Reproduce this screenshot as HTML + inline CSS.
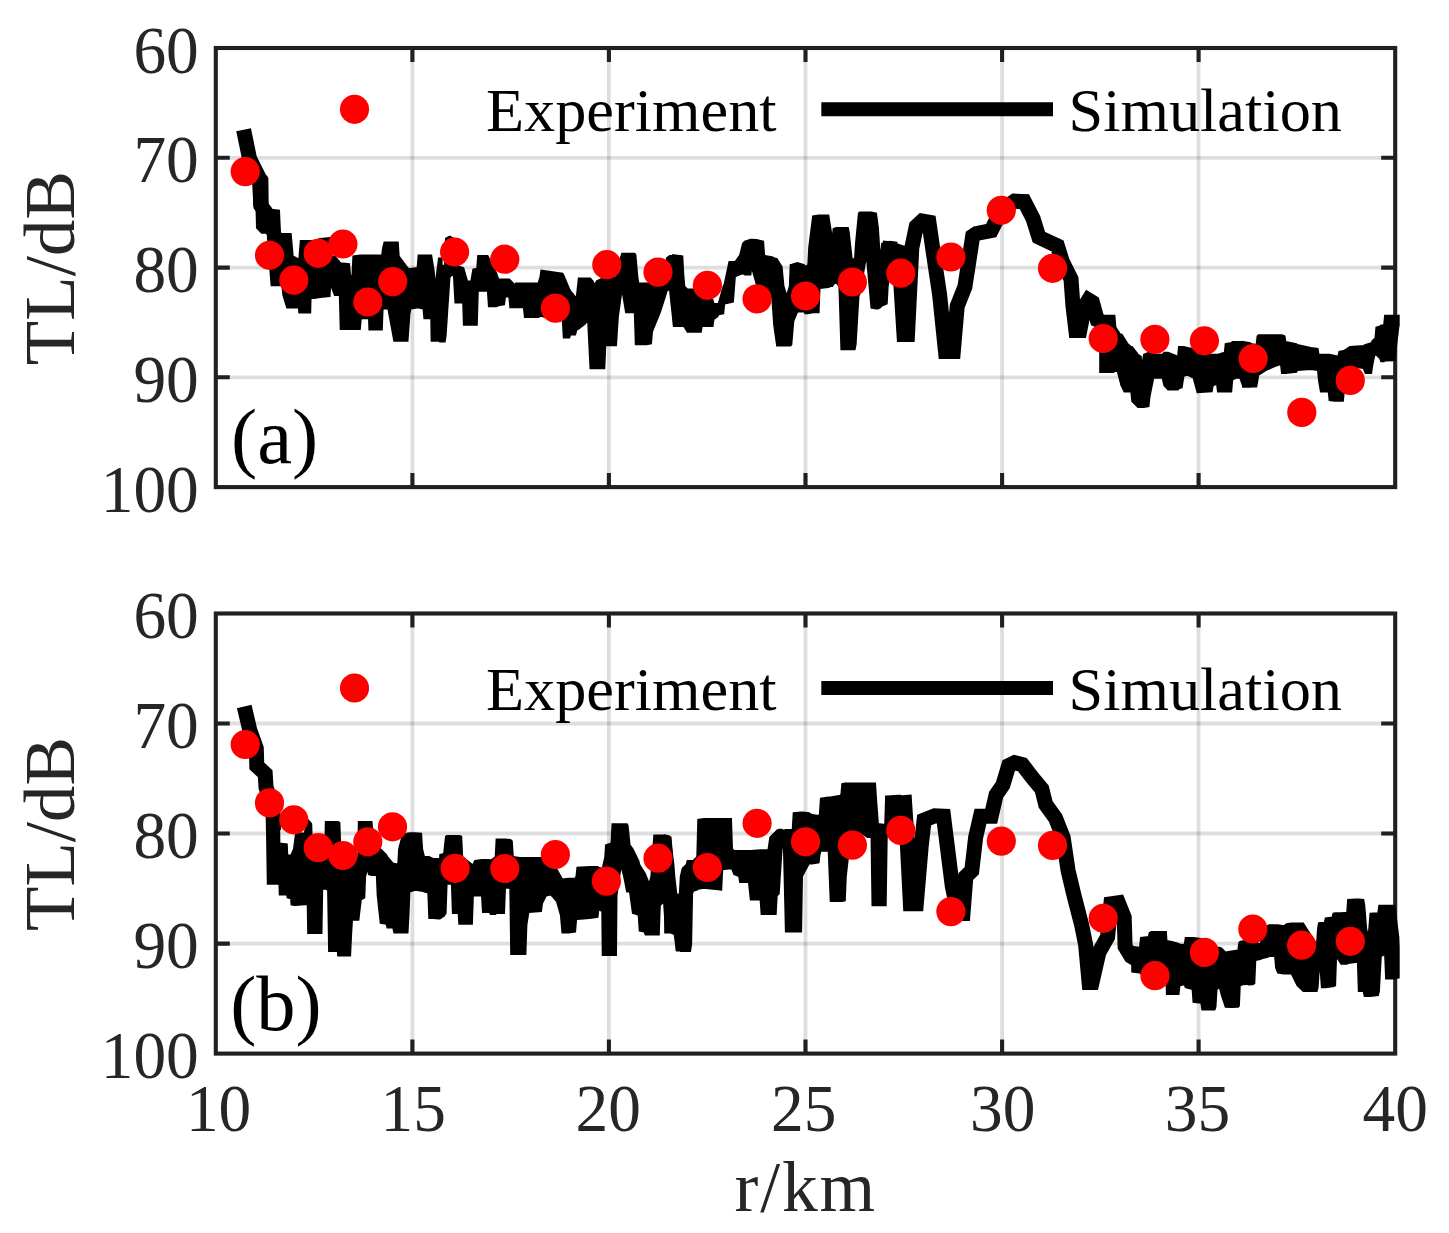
<!DOCTYPE html>
<html><head><meta charset="utf-8"><title>TL</title>
<style>
html,body{margin:0;padding:0;background:#fff;overflow:hidden}
svg{display:block}
text{font-family:"Liberation Serif",serif}
.tk{font-size:68.5px;fill:#262626}
.lb{font-size:72.8px;fill:#262626}
.lg{font-size:62.3px;fill:#000}
.tg{font-size:78.5px;fill:#000}
</style></head><body>
<svg width="1449" height="1233" viewBox="0 0 1449 1233">
<rect width="1449" height="1233" fill="#fff"/>

<g>
<line x1="412.4" y1="48.0" x2="412.4" y2="487.1" stroke="rgba(30,30,30,0.145)" stroke-width="3.8"/>
<line x1="608.9" y1="48.0" x2="608.9" y2="487.1" stroke="rgba(30,30,30,0.145)" stroke-width="3.8"/>
<line x1="805.5" y1="48.0" x2="805.5" y2="487.1" stroke="rgba(30,30,30,0.145)" stroke-width="3.8"/>
<line x1="1002.1" y1="48.0" x2="1002.1" y2="487.1" stroke="rgba(30,30,30,0.145)" stroke-width="3.8"/>
<line x1="1198.6" y1="48.0" x2="1198.6" y2="487.1" stroke="rgba(30,30,30,0.145)" stroke-width="3.8"/>
<line x1="215.8" y1="157.8" x2="1395.2" y2="157.8" stroke="rgba(30,30,30,0.145)" stroke-width="3.8"/>
<line x1="215.8" y1="267.6" x2="1395.2" y2="267.6" stroke="rgba(30,30,30,0.145)" stroke-width="3.8"/>
<line x1="215.8" y1="377.3" x2="1395.2" y2="377.3" stroke="rgba(30,30,30,0.145)" stroke-width="3.8"/>
<rect x="215.8" y="48.0" width="1179.4" height="439.1" fill="none" stroke="#202020" stroke-width="4.1"/>
<path d="M412.4 48.0v14M412.4 487.1v-14" stroke="#202020" stroke-width="4.1"/>
<path d="M608.9 48.0v14M608.9 487.1v-14" stroke="#202020" stroke-width="4.1"/>
<path d="M805.5 48.0v14M805.5 487.1v-14" stroke="#202020" stroke-width="4.1"/>
<path d="M1002.1 48.0v14M1002.1 487.1v-14" stroke="#202020" stroke-width="4.1"/>
<path d="M1198.6 48.0v14M1198.6 487.1v-14" stroke="#202020" stroke-width="4.1"/>
<path d="M215.8 157.8h14M1395.2 157.8h-14" stroke="#202020" stroke-width="4.1"/>
<path d="M215.8 267.6h14M1395.2 267.6h-14" stroke="#202020" stroke-width="4.1"/>
<path d="M215.8 377.3h14M1395.2 377.3h-14" stroke="#202020" stroke-width="4.1"/>
<polyline points="243.6,129.7 249.6,158.9 259.4,178.4 260.9,205.6 269.5,217.3 273.8,232.9" fill="none" stroke="#000" stroke-width="15" stroke-linejoin="miter" stroke-miterlimit="2"/>
<polygon points="253.9,178.4 256.3,164.8 256.8,164.8 261.7,172.6 266.6,176.4 267.6,178.4 267.9,208.6 271.4,209.5 279.2,210.5 280.2,232.9 282.2,233.9 283.1,233.9 287.0,233.9 290.9,233.9 292.9,256.3 298.7,259.2 299.1,259.2 300.6,240.7 310.4,240.7 310.8,240.7 314.3,240.7 320.1,238.7 329.8,237.8 330.2,244.6 331.8,256.3 334.7,256.3 339.6,262.1 340.5,263.1 349.3,264.0 350.3,275.7 352.2,275.7 353.2,256.3 360.0,255.3 361.0,255.3 368.8,255.3 369.2,255.3 382.0,255.3 382.8,248.5 384.3,242.2 388.2,242.2 389.2,242.2 394.1,242.2 398.0,242.2 398.9,256.3 407.7,267.9 409.6,268.9 410.6,268.9 417.4,267.9 418.4,255.3 423.3,255.3 424.2,255.3 431.1,255.3 431.4,255.3 434.0,271.8 435.0,287.4 438.8,258.2 441.8,258.2 441.8,340.9 438.8,340.9 435.0,340.9 434.0,340.9 431.4,340.9 431.1,318.5 424.2,318.5 423.3,308.8 418.4,307.8 417.4,307.8 410.6,308.8 409.6,314.6 407.7,340.9 398.9,340.9 398.0,340.9 394.1,340.9 389.2,314.6 388.2,308.8 384.3,308.8 382.8,308.8 382.0,329.8 369.2,329.8 368.8,318.5 361.0,318.5 360.0,329.2 353.2,329.2 352.2,329.2 350.3,329.2 349.3,329.2 340.5,329.2 339.6,295.2 334.7,295.2 331.8,287.4 330.2,287.4 329.8,296.2 320.1,297.1 314.3,298.1 310.8,297.1 310.4,312.7 300.6,312.7 299.1,312.7 298.7,307.8 292.9,307.8 290.9,307.8 287.0,307.8 283.1,295.2 282.2,285.5 280.2,285.5 279.2,285.5 271.4,285.5 267.9,240.7 267.6,233.9 266.6,232.9 261.7,232.9 256.8,228.0 256.3,207.6 253.9,205.6" fill="#000" stroke="#000" stroke-width="1.6" stroke-linejoin="miter"/>
<polygon points="440.0,265.6 444.9,265.6 445.8,238.4 449.7,236.4 453.6,238.4 455.2,265.6 463.0,267.6 463.7,268.6 467.3,281.2 471.1,281.2 473.1,269.5 477.0,268.6 478.0,255.9 487.7,255.9 488.7,257.9 496.4,273.4 498.4,279.3 504.2,279.3 505.2,279.3 509.1,279.3 510.1,280.2 514.9,285.1 515.9,283.2 523.7,283.2 524.7,283.2 538.3,283.2 540.2,277.3 541.2,270.5 562.6,273.4 563.6,275.4 569.4,289.0 570.4,290.9 575.3,296.8 576.6,296.8 578.6,278.3 585.0,278.3 587.9,278.3 590.3,278.3 592.8,281.2 594.7,285.1 596.7,281.2 604.5,277.3 605.5,277.3 616.2,277.3 618.1,265.6 622.0,253.6 625.9,253.6 634.6,253.6 635.6,254.9 637.6,277.3 638.5,283.2 646.3,283.2 651.2,283.2 652.2,283.2 660.0,283.2 663.8,271.5 666.8,257.9 669.7,255.9 673.6,255.9 680.0,255.9 680.0,325.6 673.6,325.6 669.7,289.0 666.8,290.9 663.8,300.7 660.0,312.4 652.2,331.8 651.2,343.5 646.3,344.5 638.5,344.5 637.6,344.5 635.6,344.5 634.6,312.4 625.9,312.4 622.0,289.0 618.1,316.3 616.2,345.5 605.5,345.5 604.5,368.4 596.7,368.4 594.7,368.4 592.8,368.4 590.3,368.4 587.9,320.1 585.0,324.0 578.6,328.9 576.6,329.9 575.3,334.7 570.4,334.7 569.4,337.7 563.6,337.7 562.6,320.1 541.2,316.3 540.2,316.3 538.3,317.2 524.7,317.2 523.7,307.5 515.9,307.5 514.9,307.5 510.1,307.5 509.1,296.8 505.2,296.8 504.2,304.6 498.4,305.5 496.4,306.5 488.7,306.5 487.7,290.9 478.0,290.9 477.0,325.0 473.1,325.0 471.1,325.0 467.3,325.0 463.7,325.0 463.0,302.6 455.2,302.6 453.6,273.4 449.7,277.3 445.8,335.7 444.9,341.6 440.0,341.6" fill="#000" stroke="#000" stroke-width="1.6" stroke-linejoin="miter"/>
<polygon points="672.8,255.1 673.8,255.1 682.5,256.1 683.5,274.6 684.5,286.3 687.4,289.2 701.0,289.2 702.0,297.9 712.7,299.9 713.7,303.8 717.6,303.8 718.5,303.8 723.4,286.3 724.4,284.3 729.2,261.9 733.1,261.9 735.1,261.9 739.9,255.1 742.9,243.4 744.8,241.5 750.6,239.5 751.6,239.5 756.5,239.9 763.3,241.5 764.3,255.1 766.2,256.1 772.1,257.1 774.0,258.0 776.9,259.0 781.8,266.8 783.7,286.3 786.7,296.0 789.6,286.3 790.5,264.8 791.5,264.8 793.5,263.9 797.4,262.9 804.2,264.8 805.1,266.8 808.1,264.8 809.0,247.3 812.9,216.2 818.8,215.2 819.7,215.2 828.5,215.2 830.5,227.9 832.4,239.5 833.4,228.8 836.3,227.9 839.2,227.9 841.2,227.9 848.0,227.9 848.9,231.8 851.9,259.0 854.8,259.0 855.8,243.4 858.7,213.3 859.6,212.3 866.5,212.3 871.3,212.3 876.2,213.3 878.1,227.9 880.1,259.0 882.0,243.4 886.9,242.5 887.9,242.5 889.8,241.5 896.6,242.5 896.6,270.7 889.8,274.6 887.9,286.3 886.9,303.8 882.0,305.7 880.1,307.7 878.1,308.6 876.2,308.6 871.3,307.7 866.5,255.1 859.6,294.0 858.7,296.0 855.8,344.6 854.8,349.5 851.9,349.5 848.9,349.5 848.0,349.5 841.2,349.5 839.2,286.3 836.3,282.4 833.4,284.3 832.4,286.3 830.5,286.3 828.5,287.2 819.7,288.2 818.8,312.5 812.9,312.5 809.0,313.1 808.1,313.5 805.1,313.5 804.2,311.6 797.4,311.6 793.5,321.3 791.5,344.6 790.5,345.6 789.6,345.6 786.7,345.6 783.7,345.6 781.8,345.6 776.9,345.6 774.0,325.2 772.1,297.9 766.2,290.1 764.3,286.3 763.3,286.3 756.5,284.3 751.6,266.8 750.6,274.6 744.8,274.6 742.9,273.6 739.9,274.6 735.1,276.5 733.1,301.8 729.2,302.8 724.4,303.8 723.4,313.5 718.5,314.5 717.6,316.4 713.7,319.3 712.7,326.2 702.0,326.2 701.0,332.0 687.4,332.0 684.5,327.1 683.5,326.2 682.5,326.2 673.8,326.2 672.8,290.1" fill="#000" stroke="#000" stroke-width="1.6" stroke-linejoin="miter"/>
<polyline points="882.2,247.9 890.0,248.8 898.8,251.8 904.0,334.5 907.5,334.5 911.8,247.9 916.3,226.4 922.1,221.0 928.9,222.2 933.2,251.8 939.6,294.6 945.5,351.4 953.3,351.4 957.2,306.3 964.9,286.8 972.7,236.2 976.6,233.5 991.2,230.7 1001.3,210.3 1014.6,201.1 1024.3,201.5 1033.1,218.7 1038.9,237.2 1057.4,245.9 1062.3,261.5 1071.0,279.0 1073.0,306.3 1075.9,330.6 1079.8,330.6 1084.6,306.3 1088.5,300.0 1092.4,302.4 1097.3,319.9 1107.0,324.2 1109.6,364.6 1110.9,364.6 1115.8,337.4 1120.7,345.2 1127.9,384.1" fill="none" stroke="#000" stroke-width="15" stroke-linejoin="miter" stroke-miterlimit="2"/>
<polygon points="1100.0,315.6 1113.6,315.6 1114.6,315.6 1115.6,327.3 1121.4,336.1 1124.3,340.9 1131.1,346.8 1132.1,346.8 1138.0,354.6 1140.9,356.5 1141.8,366.3 1143.8,354.6 1148.7,352.6 1149.6,352.6 1153.5,352.6 1156.4,354.6 1162.3,354.6 1164.2,352.6 1168.1,352.6 1177.9,356.5 1178.8,346.8 1181.8,346.8 1183.7,346.8 1187.6,347.8 1193.4,348.7 1197.3,354.6 1211.9,354.6 1212.9,354.6 1216.8,354.6 1217.8,354.6 1224.6,352.6 1225.5,343.9 1231.4,342.9 1232.4,341.9 1236.3,341.9 1240.1,341.9 1243.1,341.9 1250.1,342.9 1250.1,386.7 1243.1,386.7 1240.1,377.9 1236.3,377.9 1232.4,379.9 1231.4,391.6 1225.5,391.6 1224.6,391.6 1217.8,391.6 1216.8,383.8 1212.9,385.7 1211.9,391.6 1197.3,392.5 1193.4,377.9 1187.6,375.0 1183.7,376.0 1181.8,387.7 1178.8,388.6 1177.9,389.6 1168.1,389.6 1164.2,385.7 1162.3,377.9 1156.4,377.9 1153.5,377.9 1149.6,397.4 1148.7,406.2 1143.8,407.1 1141.8,407.1 1140.9,407.1 1138.0,407.1 1132.1,401.3 1131.1,391.6 1124.3,391.6 1121.4,385.7 1115.6,364.3 1114.6,366.3 1113.6,372.1 1100.0,372.1" fill="#000" stroke="#000" stroke-width="1.6" stroke-linejoin="miter"/>
<polygon points="1242.8,341.9 1244.8,342.9 1256.4,344.8 1257.4,336.1 1258.4,335.1 1266.2,335.1 1274.9,335.1 1280.8,335.1 1281.8,335.1 1284.7,336.1 1285.6,341.9 1296.4,343.9 1297.3,344.8 1310.9,347.8 1317.8,348.7 1318.7,354.6 1320.7,354.6 1328.5,354.6 1329.4,354.6 1334.3,355.5 1338.2,356.5 1339.2,351.7 1343.1,350.7 1344.0,350.7 1349.9,346.8 1363.5,345.8 1365.5,344.8 1371.3,342.9 1372.3,340.9 1374.2,339.0 1375.2,339.0 1376.2,327.3 1380.0,326.4 1381.0,325.4 1383.9,325.4 1384.9,315.6 1394.6,315.6 1398.5,315.6 1398.9,315.6 1398.9,325.4 1398.5,327.3 1394.6,360.4 1384.9,360.8 1383.9,361.4 1381.0,361.4 1380.0,358.5 1376.2,354.6 1375.2,354.6 1374.2,356.5 1372.3,366.3 1371.3,373.1 1365.5,373.1 1363.5,368.2 1349.9,366.3 1344.0,391.6 1343.1,400.9 1339.2,400.9 1338.2,400.9 1334.3,400.9 1329.4,400.3 1328.5,391.6 1320.7,391.6 1318.7,379.9 1317.8,370.1 1310.9,369.2 1297.3,370.1 1296.4,372.1 1285.6,373.1 1284.7,373.1 1281.8,373.1 1280.8,364.3 1274.9,366.3 1266.2,370.1 1258.4,375.0 1257.4,381.8 1256.4,386.7 1244.8,386.7 1242.8,386.7" fill="#000" stroke="#000" stroke-width="1.6" stroke-linejoin="miter"/>
<circle cx="245.2" cy="171.6" r="14.6" fill="#ff0000"/>
<circle cx="269.5" cy="255.3" r="14.6" fill="#ff0000"/>
<circle cx="293.8" cy="280.2" r="14.6" fill="#ff0000"/>
<circle cx="318.2" cy="253.3" r="14.6" fill="#ff0000"/>
<circle cx="342.9" cy="244.0" r="14.6" fill="#ff0000"/>
<circle cx="367.8" cy="302.0" r="14.6" fill="#ff0000"/>
<circle cx="392.7" cy="281.6" r="14.6" fill="#ff0000"/>
<circle cx="454.6" cy="252.0" r="14.6" fill="#ff0000"/>
<circle cx="504.8" cy="259.2" r="14.6" fill="#ff0000"/>
<circle cx="555.4" cy="308.1" r="14.6" fill="#ff0000"/>
<circle cx="606.8" cy="264.7" r="14.6" fill="#ff0000"/>
<circle cx="658.0" cy="272.1" r="14.6" fill="#ff0000"/>
<circle cx="707.4" cy="285.3" r="14.6" fill="#ff0000"/>
<circle cx="757.1" cy="298.9" r="14.6" fill="#ff0000"/>
<circle cx="805.5" cy="296.0" r="14.6" fill="#ff0000"/>
<circle cx="852.4" cy="282.0" r="14.6" fill="#ff0000"/>
<circle cx="900.8" cy="273.2" r="14.6" fill="#ff0000"/>
<circle cx="950.9" cy="257.0" r="14.6" fill="#ff0000"/>
<circle cx="1001.3" cy="210.3" r="14.6" fill="#ff0000"/>
<circle cx="1052.5" cy="268.3" r="14.6" fill="#ff0000"/>
<circle cx="1103.2" cy="338.5" r="14.6" fill="#ff0000"/>
<circle cx="1154.9" cy="339.4" r="14.6" fill="#ff0000"/>
<circle cx="1204.4" cy="340.8" r="14.6" fill="#ff0000"/>
<circle cx="1253.1" cy="358.5" r="14.6" fill="#ff0000"/>
<circle cx="1301.8" cy="412.4" r="14.6" fill="#ff0000"/>
<circle cx="1350.3" cy="380.4" r="14.6" fill="#ff0000"/>
<text class="tk" transform="translate(198.8 72.6) scale(0.955 1)" text-anchor="end">60</text>
<text class="tk" transform="translate(198.8 182.4) scale(0.955 1)" text-anchor="end">70</text>
<text class="tk" transform="translate(198.8 292.2) scale(0.955 1)" text-anchor="end">80</text>
<text class="tk" transform="translate(198.8 401.9) scale(0.955 1)" text-anchor="end">90</text>
<text class="tk" transform="translate(198.8 511.7) scale(0.955 1)" text-anchor="end">100</text>
<text class="lb" transform="translate(74.4 268.1) rotate(-90)" text-anchor="middle">TL/dB</text>
<circle cx="354.5" cy="109.3" r="14.6" fill="#ff0000"/>
<text class="lg" x="486" y="130.9">Experiment</text>
<line x1="821.3" y1="109.3" x2="1053" y2="109.3" stroke="#000" stroke-width="14"/>
<text class="lg" x="1068.5" y="130.9">Simulation</text>
<text class="tg" x="231" y="462.6">(a)</text>
</g>
<g>
<line x1="412.4" y1="613.5" x2="412.4" y2="1053.6" stroke="rgba(30,30,30,0.145)" stroke-width="3.8"/>
<line x1="608.9" y1="613.5" x2="608.9" y2="1053.6" stroke="rgba(30,30,30,0.145)" stroke-width="3.8"/>
<line x1="805.5" y1="613.5" x2="805.5" y2="1053.6" stroke="rgba(30,30,30,0.145)" stroke-width="3.8"/>
<line x1="1002.1" y1="613.5" x2="1002.1" y2="1053.6" stroke="rgba(30,30,30,0.145)" stroke-width="3.8"/>
<line x1="1198.6" y1="613.5" x2="1198.6" y2="1053.6" stroke="rgba(30,30,30,0.145)" stroke-width="3.8"/>
<line x1="215.8" y1="723.5" x2="1395.2" y2="723.5" stroke="rgba(30,30,30,0.145)" stroke-width="3.8"/>
<line x1="215.8" y1="833.5" x2="1395.2" y2="833.5" stroke="rgba(30,30,30,0.145)" stroke-width="3.8"/>
<line x1="215.8" y1="943.6" x2="1395.2" y2="943.6" stroke="rgba(30,30,30,0.145)" stroke-width="3.8"/>
<rect x="215.8" y="613.5" width="1179.4" height="440.1" fill="none" stroke="#202020" stroke-width="4.1"/>
<path d="M412.4 613.5v14M412.4 1053.6v-14" stroke="#202020" stroke-width="4.1"/>
<path d="M608.9 613.5v14M608.9 1053.6v-14" stroke="#202020" stroke-width="4.1"/>
<path d="M805.5 613.5v14M805.5 1053.6v-14" stroke="#202020" stroke-width="4.1"/>
<path d="M1002.1 613.5v14M1002.1 1053.6v-14" stroke="#202020" stroke-width="4.1"/>
<path d="M1198.6 613.5v14M1198.6 1053.6v-14" stroke="#202020" stroke-width="4.1"/>
<path d="M215.8 723.5h14M1395.2 723.5h-14" stroke="#202020" stroke-width="4.1"/>
<path d="M215.8 833.5h14M1395.2 833.5h-14" stroke="#202020" stroke-width="4.1"/>
<path d="M215.8 943.6h14M1395.2 943.6h-14" stroke="#202020" stroke-width="4.1"/>
<polyline points="244.2,706.5 250.0,730.9 256.3,748.4 256.8,765.9 265.2,773.7 266.0,787.3 271.4,802.9 273.4,816.5 273.4,830.1" fill="none" stroke="#000" stroke-width="15" stroke-linejoin="miter" stroke-miterlimit="2"/>
<polygon points="266.6,814.9 267.6,815.9 279.2,817.9 279.6,843.2 287.0,844.1 287.4,854.8 290.9,855.8 291.3,854.8 293.8,849.0 295.8,833.4 304.5,833.4 307.5,819.8 308.0,819.8 311.4,823.7 312.3,849.0 321.7,860.7 322.4,860.7 325.0,856.8 325.6,821.8 327.9,821.8 328.9,821.8 337.6,821.8 338.0,821.8 339.6,822.7 340.5,849.0 350.3,864.6 351.3,864.6 352.2,866.5 358.1,856.8 358.6,821.8 361.0,821.8 364.5,821.8 365.3,821.8 367.8,821.8 368.8,821.8 371.7,821.8 372.7,831.5 376.6,841.2 377.5,845.1 380.5,849.0 386.3,854.8 387.3,856.8 393.1,863.6 394.1,863.6 398.0,864.6 398.9,849.0 400.9,841.2 402.8,835.4 407.7,833.4 408.7,833.4 409.6,833.0 415.5,833.0 421.3,833.4 422.3,849.0 424.2,856.8 428.1,856.8 429.1,856.8 433.0,858.7 438.8,858.7 440.8,857.8 440.8,918.3 438.8,918.7 433.0,918.1 429.1,918.1 428.1,892.8 424.2,891.8 422.3,890.9 421.3,890.9 415.5,889.9 409.6,891.8 408.7,915.2 407.7,932.7 402.8,932.7 400.9,932.7 398.9,932.7 398.0,932.7 394.1,932.7 393.1,927.8 387.3,927.8 386.3,923.9 380.5,923.0 377.5,895.7 376.6,875.3 372.7,875.3 371.7,875.3 368.8,874.3 367.8,868.5 365.3,876.3 364.5,897.7 361.0,899.6 358.6,920.0 358.1,920.0 352.2,920.0 351.3,934.6 350.3,955.7 340.5,955.7 339.6,955.7 338.0,955.7 337.6,951.2 328.9,951.2 327.9,889.9 325.6,888.9 325.0,888.9 322.4,888.9 321.7,933.1 312.3,933.1 311.4,933.1 308.0,933.1 307.5,904.5 304.5,904.5 295.8,905.1 293.8,905.1 291.3,904.5 290.9,898.6 287.4,897.7 287.0,894.7 279.6,894.7 279.2,884.0 267.6,884.0 266.6,817.9" fill="#000" stroke="#000" stroke-width="1.6" stroke-linejoin="miter"/>
<polygon points="440.0,854.8 443.9,853.9 445.8,836.4 446.8,835.8 451.7,835.8 452.7,835.8 458.5,835.8 459.1,835.8 461.4,836.4 462.4,856.8 472.1,864.6 473.1,864.6 475.0,860.7 481.8,859.7 482.8,859.7 489.6,859.7 490.6,860.7 495.5,856.8 496.4,839.3 504.2,839.3 505.2,839.3 510.1,839.7 511.0,840.2 512.0,841.2 513.0,856.8 519.8,857.8 525.6,857.8 526.6,857.8 528.6,857.8 541.2,857.8 542.2,858.7 546.1,859.7 550.9,868.5 556.8,869.4 560.7,876.3 562.2,879.2 568.5,878.6 575.3,878.2 576.3,876.3 577.2,867.5 589.9,866.9 597.7,866.9 598.6,867.5 602.1,868.5 602.5,868.5 605.1,856.8 605.8,845.1 611.3,843.2 612.3,824.1 616.2,824.1 616.7,824.1 621.0,824.1 623.9,824.1 626.9,824.1 627.8,825.6 629.8,845.1 632.7,849.0 636.6,856.8 638.5,860.7 639.5,864.6 644.4,872.4 645.4,874.3 649.2,884.0 651.2,876.3 653.1,849.0 654.1,835.4 659.0,835.4 660.0,835.4 663.8,835.4 665.8,835.4 669.7,836.4 671.6,849.0 673.6,864.6 674.5,876.3 676.5,893.8 680.0,895.7 680.0,950.2 676.5,950.2 674.5,934.6 673.6,932.7 671.6,932.7 669.7,931.7 665.8,931.7 663.8,901.6 660.0,905.5 659.0,934.6 654.1,934.6 653.1,934.6 651.2,934.6 649.2,934.6 645.4,934.6 644.4,931.7 639.5,930.8 638.5,915.2 636.6,914.2 632.7,913.2 629.8,891.8 627.8,891.8 626.9,891.8 623.9,876.3 621.0,865.5 616.7,895.7 616.2,955.1 612.3,955.1 611.3,955.1 605.8,955.1 605.1,955.1 602.5,955.1 602.1,911.3 598.6,909.3 597.7,917.1 589.9,918.1 577.2,919.1 576.3,919.1 575.3,931.7 568.5,932.7 562.2,932.7 560.7,915.2 556.8,901.6 550.9,894.7 546.1,895.7 542.2,903.5 541.2,911.3 528.6,912.3 526.6,924.9 525.6,954.1 519.8,954.1 513.0,954.1 512.0,954.1 511.0,954.1 510.1,887.9 505.2,887.9 504.2,913.2 496.4,913.2 495.5,914.2 490.6,914.2 489.6,912.3 482.8,912.3 481.8,895.7 475.0,895.7 473.1,895.7 472.1,923.9 462.4,923.9 461.4,923.9 459.1,923.9 458.5,913.2 452.7,913.2 451.7,884.0 446.8,884.0 445.8,913.2 443.9,916.2 440.0,918.1" fill="#000" stroke="#000" stroke-width="1.6" stroke-linejoin="miter"/>
<polygon points="665.0,835.4 670.8,837.3 672.8,864.6 673.8,893.8 675.7,895.7 676.7,895.7 679.6,893.8 680.6,876.3 682.5,868.5 686.4,864.6 687.4,860.7 690.3,860.7 691.3,860.7 692.3,860.7 693.2,860.7 697.1,856.8 698.1,819.8 703.9,818.8 721.4,818.8 722.4,818.8 731.2,818.8 732.2,849.0 734.1,850.9 739.0,850.9 739.9,850.9 748.7,850.9 750.6,850.9 760.4,850.0 761.4,850.0 768.2,850.0 770.1,837.3 775.9,831.5 776.9,830.5 778.9,829.5 781.8,829.5 783.7,830.5 785.7,829.9 792.5,829.5 793.5,813.0 801.3,812.4 802.2,812.4 809.0,813.0 812.0,814.9 818.8,815.9 819.7,814.0 820.7,798.4 828.5,797.4 830.5,797.4 840.2,795.5 841.2,794.5 842.1,783.8 845.0,783.2 846.0,783.2 848.0,783.2 859.6,783.2 867.4,783.2 871.3,783.2 872.3,783.2 875.2,783.2 876.2,798.4 878.1,823.7 885.0,824.7 885.9,796.4 886.9,796.4 898.6,795.5 900.5,795.5 900.5,837.3 898.6,817.9 886.9,837.3 885.9,905.5 885.0,905.5 878.1,905.5 876.2,905.5 875.2,905.5 872.3,905.5 871.3,837.3 867.4,837.3 859.6,831.5 848.0,858.7 846.0,876.3 845.0,900.6 842.1,901.2 841.2,901.2 840.2,901.2 830.5,901.2 828.5,850.9 820.7,850.9 819.7,854.8 818.8,862.6 812.0,863.6 809.0,863.6 802.2,876.3 801.3,931.7 793.5,931.7 792.5,931.7 785.7,931.7 783.7,847.1 781.8,849.0 778.9,893.8 776.9,895.7 775.9,914.2 770.1,914.2 768.2,914.2 761.4,914.2 760.4,899.6 750.6,899.6 748.7,882.1 739.9,882.1 739.0,876.3 734.1,874.3 732.2,869.4 731.2,868.5 722.4,869.4 721.4,889.9 703.9,887.9 698.1,888.9 697.1,889.9 693.2,890.9 692.3,893.8 691.3,944.4 690.3,951.2 687.4,951.2 686.4,951.2 682.5,951.2 680.6,951.2 679.6,950.6 676.7,950.6 675.7,934.6 673.8,933.7 672.8,933.7 670.8,932.7 665.0,932.7" fill="#000" stroke="#000" stroke-width="1.6" stroke-linejoin="miter"/>
<polyline points="885.1,803.7 890.0,803.7 904.6,802.6 907.5,847.3 910.4,903.8 916.3,903.8 921.1,847.3 924.1,820.1 934.8,815.8 943.5,816.2 947.4,847.3 952.3,886.3 958.1,913.5 963.0,913.5 965.9,876.5 971.8,870.7 975.6,837.6 980.5,816.2 991.2,816.2 996.1,794.8 1002.9,785.0 1008.7,765.6 1014.6,762.7 1022.4,764.6 1032.1,777.3 1041.8,788.9 1045.7,804.5 1055.5,818.1 1063.2,837.6 1068.1,870.7 1073.9,895.0 1081.7,925.2 1085.6,944.6 1089.1,982.6 1092.0,982.6 1098.9,952.4 1107.6,936.9 1110.9,903.8 1118.3,902.8 1124.2,917.4 1125.1,946.6 1131.0,956.3 1137.8,960.2" fill="none" stroke="#000" stroke-width="15" stroke-linejoin="miter" stroke-miterlimit="2"/>
<polygon points="1132.0,946.5 1139.8,947.5 1140.8,937.8 1148.6,936.8 1149.5,932.9 1151.5,931.9 1166.1,931.9 1166.7,940.7 1171.9,941.7 1178.7,943.6 1179.7,944.6 1184.6,944.6 1185.5,937.8 1192.4,937.8 1193.3,937.8 1201.1,938.7 1202.1,938.7 1214.7,944.6 1215.7,946.5 1216.7,947.5 1219.6,947.5 1221.6,948.5 1225.5,952.4 1231.3,951.4 1238.1,950.4 1239.1,942.6 1240.0,941.7 1243.0,941.1 1250.2,940.7 1250.2,983.9 1243.0,984.5 1240.0,985.5 1239.1,1005.9 1238.1,1006.9 1231.3,1007.3 1225.5,1006.9 1221.6,995.2 1219.6,987.4 1216.7,989.3 1215.7,1006.9 1214.7,1009.8 1202.1,1009.8 1201.1,1003.0 1193.3,1002.0 1192.4,989.3 1185.5,987.4 1184.6,984.5 1179.7,985.5 1178.7,994.2 1171.9,994.2 1166.7,994.2 1166.1,973.8 1151.5,973.8 1149.5,973.8 1148.6,973.8 1140.8,973.8 1139.8,972.8 1132.0,971.8" fill="#000" stroke="#000" stroke-width="1.6" stroke-linejoin="miter"/>
<polygon points="1248.7,941.1 1252.6,941.1 1254.5,940.7 1255.5,941.7 1260.3,944.6 1262.3,936.8 1267.2,926.1 1269.1,925.1 1274.9,925.1 1275.9,925.1 1277.9,925.1 1283.7,926.1 1286.6,924.1 1291.5,923.2 1292.5,923.2 1297.3,923.2 1301.2,923.2 1303.2,923.2 1316.8,944.6 1317.8,929.0 1318.7,923.2 1319.7,922.8 1321.7,922.8 1324.6,922.8 1325.5,918.3 1332.4,917.3 1333.3,913.4 1335.3,913.0 1336.3,913.0 1341.1,913.0 1347.0,912.5 1347.9,899.8 1355.7,899.4 1357.7,899.4 1358.6,899.4 1363.5,899.8 1364.5,905.6 1366.4,929.0 1368.4,936.8 1370.3,913.4 1378.1,913.0 1379.1,905.6 1381.0,905.6 1384.9,905.6 1385.9,905.6 1394.6,905.6 1398.5,936.8 1398.9,946.5 1398.9,977.7 1398.5,977.7 1394.6,978.6 1385.9,978.6 1384.9,954.3 1381.0,956.3 1379.1,991.3 1378.1,995.2 1370.3,996.2 1368.4,996.2 1366.4,996.2 1364.5,996.2 1363.5,991.3 1358.6,991.3 1357.7,962.1 1355.7,962.1 1347.9,963.1 1347.0,964.0 1341.1,964.0 1336.3,956.3 1335.3,985.5 1333.3,986.4 1332.4,986.4 1325.5,987.4 1324.6,987.4 1321.7,987.4 1319.7,960.1 1318.7,973.8 1317.8,987.4 1316.8,991.3 1303.2,991.3 1301.2,989.3 1297.3,985.5 1292.5,975.7 1291.5,973.8 1286.6,973.8 1283.7,973.8 1277.9,972.8 1275.9,967.9 1274.9,956.3 1269.1,956.3 1267.2,957.2 1262.3,958.2 1260.3,959.2 1255.5,960.1 1254.5,983.5 1252.6,984.5 1248.7,984.7" fill="#000" stroke="#000" stroke-width="1.6" stroke-linejoin="miter"/>
<circle cx="245.2" cy="744.5" r="14.6" fill="#ff0000"/>
<circle cx="269.5" cy="802.9" r="14.6" fill="#ff0000"/>
<circle cx="293.8" cy="819.8" r="14.6" fill="#ff0000"/>
<circle cx="318.2" cy="847.7" r="14.6" fill="#ff0000"/>
<circle cx="342.9" cy="855.5" r="14.6" fill="#ff0000"/>
<circle cx="367.8" cy="841.8" r="14.6" fill="#ff0000"/>
<circle cx="392.5" cy="826.8" r="14.6" fill="#ff0000"/>
<circle cx="455.1" cy="868.3" r="14.6" fill="#ff0000"/>
<circle cx="504.8" cy="868.5" r="14.6" fill="#ff0000"/>
<circle cx="555.4" cy="854.5" r="14.6" fill="#ff0000"/>
<circle cx="606.4" cy="881.1" r="14.6" fill="#ff0000"/>
<circle cx="658.0" cy="858.2" r="14.6" fill="#ff0000"/>
<circle cx="707.4" cy="867.5" r="14.6" fill="#ff0000"/>
<circle cx="757.1" cy="823.3" r="14.6" fill="#ff0000"/>
<circle cx="805.5" cy="841.8" r="14.6" fill="#ff0000"/>
<circle cx="852.4" cy="845.1" r="14.6" fill="#ff0000"/>
<circle cx="900.8" cy="830.4" r="14.6" fill="#ff0000"/>
<circle cx="950.9" cy="911.6" r="14.6" fill="#ff0000"/>
<circle cx="1001.3" cy="841.1" r="14.6" fill="#ff0000"/>
<circle cx="1052.5" cy="845.4" r="14.6" fill="#ff0000"/>
<circle cx="1103.2" cy="918.3" r="14.6" fill="#ff0000"/>
<circle cx="1155.0" cy="975.7" r="14.6" fill="#ff0000"/>
<circle cx="1204.4" cy="952.4" r="14.6" fill="#ff0000"/>
<circle cx="1252.8" cy="929.0" r="14.6" fill="#ff0000"/>
<circle cx="1301.6" cy="945.2" r="14.6" fill="#ff0000"/>
<circle cx="1350.3" cy="941.3" r="14.6" fill="#ff0000"/>
<text class="tk" transform="translate(198.8 638.1) scale(0.955 1)" text-anchor="end">60</text>
<text class="tk" transform="translate(198.8 748.1) scale(0.955 1)" text-anchor="end">70</text>
<text class="tk" transform="translate(198.8 858.1) scale(0.955 1)" text-anchor="end">80</text>
<text class="tk" transform="translate(198.8 968.2) scale(0.955 1)" text-anchor="end">90</text>
<text class="tk" transform="translate(198.8 1078.2) scale(0.955 1)" text-anchor="end">100</text>
<text class="lb" transform="translate(74.4 834.0) rotate(-90)" text-anchor="middle">TL/dB</text>
<circle cx="354.5" cy="688.0" r="14.6" fill="#ff0000"/>
<text class="lg" x="486" y="709.6">Experiment</text>
<line x1="821.3" y1="688.0" x2="1053" y2="688.0" stroke="#000" stroke-width="14"/>
<text class="lg" x="1068.5" y="709.6">Simulation</text>
<text class="tg" x="230.2" y="1029.5">(b)</text>
</g>
<text class="tk" transform="translate(218.6 1130.8) scale(0.955 1)" text-anchor="middle">10</text>
<text class="tk" transform="translate(413.2 1130.8) scale(0.955 1)" text-anchor="middle">15</text>
<text class="tk" transform="translate(608.3 1130.8) scale(0.955 1)" text-anchor="middle">20</text>
<text class="tk" transform="translate(803.7 1130.8) scale(0.955 1)" text-anchor="middle">25</text>
<text class="tk" transform="translate(1002.8 1130.8) scale(0.955 1)" text-anchor="middle">30</text>
<text class="tk" transform="translate(1197.5 1130.8) scale(0.955 1)" text-anchor="middle">35</text>
<text class="tk" transform="translate(1395.2 1130.8) scale(0.955 1)" text-anchor="middle">40</text>
<text class="lb" x="734.6" y="1210.7" textLength="140.5" lengthAdjust="spacing" style="font-size:71.5px">r/km</text>
</svg></body></html>
